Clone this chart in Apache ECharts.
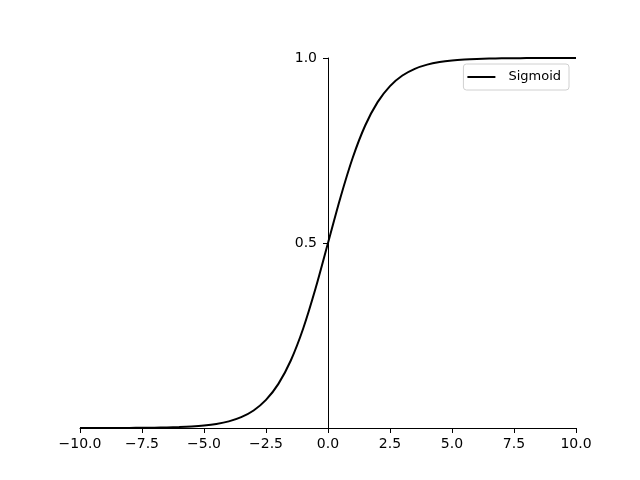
<!DOCTYPE html>
<html>
<head>
<meta charset="utf-8">
<script src="https://cdn.jsdelivr.net/npm/echarts@6/dist/echarts.min.js"></script>
<style>
  html, body { margin: 0; padding: 0; background: #fff; }
  #main { width: 640px; height: 480px; }
</style>
</head>
<body>
<div id="main"></div>
<script>
// values, every 0.5 along x
var xs = [-10, -9.5, -9, -8.5, -8, -7.5, -7, -6.5, -6, -5.5, -5, -4.5, -4, -3.5, -3, -2.5, -2, -1.5, -1, -0.5,
  0, 0.5, 1, 1.5, 2, 2.5, 3, 3.5, 4, 4.5, 5, 5.5, 6, 6.5, 7, 7.5, 8, 8.5, 9, 9.5, 10];
var sigmoidVals = [0.0000, 0.0001, 0.0001, 0.0002, 0.0003, 0.0006, 0.0009, 0.0015, 0.0025, 0.0041,
  0.0067, 0.0110, 0.0180, 0.0293, 0.0474, 0.0759, 0.1192, 0.1824, 0.2689, 0.3775,
  0.5000, 0.6225, 0.7311, 0.8176, 0.8808, 0.9241, 0.9526, 0.9707, 0.9820, 0.9890,
  0.9933, 0.9959, 0.9975, 0.9985, 0.9991, 0.9994, 0.9997, 0.9998, 0.9999, 0.9999, 1.0000];
var seriesName = 'Sigmoid';

var font = 'DejaVu Sans';
var chart = echarts.init(document.getElementById('main'));

var pts = xs.map(function (x, i) { return [x, sigmoidVals[i]]; });

function fmt(v) {
  return v.toFixed(1).replace('-', '\u2212');
}

// left spine sits at x = 0 : grid is 80..576, so 248px in from the left
var spineShift = -248;

chart.setOption({
  animation: false,
  grid: { left: 80, right: 64, top: 58, bottom: 52 },
  legend: {
    right: 71, top: 64,
    data: [seriesName],
    // line sample plus empty space so the text lands where matplotlib puts it
    icon: 'path://M0,0H0.01V0.01H0Z M0,6H28V8H0Z M36,14H36.01V14.01H36Z',
    itemWidth: 36, itemHeight: 14, itemGap: 10,
    padding: [6, 8, 6, 4],
    itemStyle: { color: '#000' },
    borderColor: '#d0d0d0', borderWidth: 1, borderRadius: 3,
    textStyle: { fontFamily: font, fontSize: 13, color: '#000' }
  },
  xAxis: {
    type: 'value', min: -10, max: 10, interval: 2.5,
    splitLine: { show: false },
    axisLine: { onZero: true, lineStyle: { color: '#000', width: 1 } },
    axisTick: { show: true, length: 5, lineStyle: { color: '#000' } },
    axisLabel: { formatter: fmt, color: '#000', fontFamily: font, fontSize: 14, margin: 9 }
  },
  yAxis: {
    type: 'value', min: 0, max: 1, interval: 0.5,
    offset: spineShift,
    splitLine: { show: false },
    axisLine: { show: true, onZero: false, lineStyle: { color: '#000', width: 1 } },
    axisTick: { show: true, length: 5, lineStyle: { color: '#000' } },
    axisLabel: {
      formatter: function (v) { return v === 0 ? '' : v.toFixed(1); },
      color: '#000', fontFamily: font, fontSize: 14, margin: 11
    }
  },
  series: [{
    name: seriesName,
    type: 'line',
    data: pts,
    smooth: 0.3,
    symbol: 'none',
    lineStyle: { color: '#000', width: 2 },
    itemStyle: { color: '#000' }
  }]
});
</script>
</body>
</html>
